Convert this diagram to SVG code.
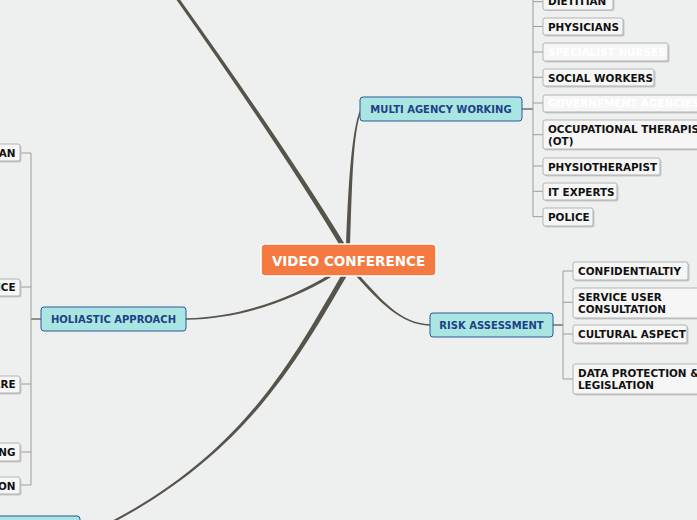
<svg xmlns="http://www.w3.org/2000/svg" width="697" height="520" viewBox="0 0 697 520">
<style>
.conn path.t{fill:#55534a}
.sub{fill:none;stroke:#9c9c9c;stroke-width:1}
.stub{fill:none;stroke:#707070;stroke-width:1.5}
.b{fill:#f6f6f6;stroke:#b3b3b3;stroke-width:1}
.s{fill:#c6c7c6}
.lt{font-family:"DejaVu Sans",Verdana,sans-serif;font-weight:bold;font-size:10.4px;fill:#111}
.w{fill:#ffffff}
.mr{fill:#a9e6e2;stroke:#2c5599;stroke-width:1}
.mt{font-family:"DejaVu Sans",Verdana,sans-serif;font-weight:bold;font-size:10px;fill:#1f4085;text-anchor:middle}
.rr{fill:#f47a42;stroke:#ffffff;stroke-width:1.5}
.rt{font-family:"DejaVu Sans",Verdana,sans-serif;font-weight:bold;font-size:13.5px;fill:#ffffff;text-anchor:middle}
</style>
<rect x="0" y="0" width="697" height="520" fill="#eef0ef"/>

<g id="connectors" class="conn">
  <path class="t" d="M345.1,244.7 Q286.7,148.9 178.2,-2.9 L175.8,-1.1 Q283.3,151.1 340.9,247.3 Z"/>
  <path class="t" d="M350,246 C352,190 352.7,130.3 361.7,110.3 L360.3,109.7 C351.3,129.7 348,190 346,246 Z"/>
  <path class="t" d="M330.8,277.3 C290.8,301.3 240,318.8 186,319.8 L186,318.2 C240,317.2 289.2,298.7 329.2,274.7 Z"/>
  <path class="t" d="M354.9,275 C378.9,301 400,324.7 430,325.7 L430,324.3 C400,323.3 381.1,299 357.1,273 Z"/>
  <path class="t" d="M347.15,275.3 C302.15,351.3 250.5,450.9 112.5,522.9 L111.5,521.1 C249.5,449.1 297.85,348.7 342.85,272.7 Z"/>
  <!-- multi agency sub-branches -->
  <path class="stub" d="M522,109 H533"/>
  <path class="sub" d="M533,0 V216.7 M533,1.7 H543 M533,26.5 H543 M533,52 H543 M533,77.3 H543 M533,103 H543 M533,134.7 H543 M533,166 H543 M533,191.3 H543 M533,216.7 H543"/>
  <!-- risk sub-branches -->
  <path class="stub" d="M553,325 H563"/>
  <path class="sub" d="M563,271 V379 M563,271 H573 M563,302.3 H573 M563,334 H573 M563,379 H573"/>
  <!-- holistic sub-branches -->
  <path class="stub" d="M41,319 H31"/>
  <path class="sub" d="M31,153 V485 M31,153 H20 M31,287 H20 M31,384 H20 M31,452 H20 M31,485 H20"/>
</g>

<g id="root">
  <rect class="rr" x="261" y="244" width="175" height="32" rx="4"/>
  <text class="rt" x="348.5" y="266">VIDEO CONFERENCE</text>
</g>

<g id="multi-agency">
  <rect class="mr" x="360" y="97" width="162" height="24" rx="3"/>
  <text class="mt" x="441" y="113.3">MULTI AGENCY WORKING</text>
</g>
<g id="risk">
  <rect class="mr" x="430" y="313" width="123" height="24" rx="3"/>
  <text class="mt" x="491.5" y="329">RISK ASSESSMENT</text>
</g>
<g id="holistic">
  <rect class="mr" x="41" y="307" width="145" height="24" rx="3"/>
  <text class="mt" x="113.5" y="323.3">HOLIASTIC APPROACH</text>
</g>
<g id="bottom-left">
  <rect class="mr" x="-10" y="516" width="90" height="24" rx="3"/>
</g>

<g id="dietitian"><rect class="s" x="544.5" y="-8" width="70" height="19" rx="2"/><rect class="b" x="543" y="-9" width="70" height="19" rx="2"/><text class="lt" x="548" y="5">DIETITIAN</text></g>
<g id="physicians"><rect class="s" x="544.5" y="19.5" width="80" height="17" rx="2"/><rect class="b" x="543" y="18" width="80" height="17" rx="2"/><text class="lt" x="548" y="31">PHYSICIANS</text></g>
<g id="specialist-nurses"><rect class="s" x="544.5" y="44.5" width="125" height="18" rx="2"/><rect class="b" x="543" y="43" width="125" height="18" rx="2"/><text class="lt w" x="548" y="56.3">SPECIALIST NURSES</text></g>
<g id="social-workers"><rect class="s" x="544.5" y="70.5" width="111" height="17" rx="2"/><rect class="b" x="543" y="69" width="111" height="17" rx="2"/><text class="lt" x="548" y="81.7">SOCIAL WORKERS</text></g>
<g id="government-agencies"><rect class="s" x="544.5" y="96.5" width="160" height="17" rx="2"/><rect class="b" x="543" y="95" width="160" height="17" rx="2"/><text class="lt w" x="548" y="107.3">GOVERNEMENT AGENCIES</text></g>
<g id="ot"><rect class="s" x="544.5" y="121.5" width="170" height="29" rx="2"/><rect class="b" x="543" y="120" width="170" height="29" rx="2"/><text class="lt" x="548" y="133.3">OCCUPATIONAL THERAPIST</text><text class="lt" x="548" y="145.3">(OT)</text></g>
<g id="physiotherapist"><rect class="s" x="544.5" y="159.5" width="117" height="17" rx="2"/><rect class="b" x="543" y="158" width="117" height="17" rx="2"/><text class="lt" x="548" y="170.7">PHYSIOTHERAPIST</text></g>
<g id="it-experts"><rect class="s" x="544.5" y="184.5" width="74" height="17" rx="2"/><rect class="b" x="543" y="183" width="74" height="17" rx="2"/><text class="lt" x="548" y="196">IT EXPERTS</text></g>
<g id="police"><rect class="s" x="544.5" y="209.5" width="50" height="18" rx="2"/><rect class="b" x="543" y="208" width="50" height="18" rx="2"/><text class="lt" x="548" y="221">POLICE</text></g>

<g id="confidentiality"><rect class="s" x="574.5" y="263.5" width="115" height="18" rx="2"/><rect class="b" x="573" y="262" width="115" height="18" rx="2"/><text class="lt" x="578" y="275">CONFIDENTIALTIY</text></g>
<g id="service-user"><rect class="s" x="574.5" y="289.5" width="140" height="30" rx="2"/><rect class="b" x="573" y="288" width="140" height="30" rx="2"/><text class="lt" x="578" y="301">SERVICE USER</text><text class="lt" x="578" y="312.7">CONSULTATION</text></g>
<g id="cultural-aspect"><rect class="s" x="574.5" y="326.5" width="114" height="18" rx="2"/><rect class="b" x="573" y="325" width="114" height="18" rx="2"/><text class="lt" x="578" y="337.7">CULTURAL ASPECT</text></g>
<g id="data-protection"><rect class="s" x="574.5" y="365.5" width="140" height="30" rx="2"/><rect class="b" x="573" y="364" width="140" height="30" rx="2"/><text class="lt" x="578" y="377">DATA PROTECTION &amp;</text><text class="lt" x="578" y="388.7">LEGISLATION</text></g>

<g id="h1"><rect class="s" x="-28.5" y="145.5" width="50" height="17" rx="2"/><rect class="b" x="-30" y="144" width="50" height="17" rx="2"/><text class="lt" x="15.5" y="156.7" text-anchor="end">AN</text></g>
<g id="h2"><rect class="s" x="-28.5" y="280.5" width="50" height="17" rx="2"/><rect class="b" x="-30" y="279" width="50" height="17" rx="2"/><text class="lt" x="15.5" y="290.7" text-anchor="end">ICE</text></g>
<g id="h3"><rect class="s" x="-28.5" y="377.5" width="50" height="17" rx="2"/><rect class="b" x="-30" y="376" width="50" height="17" rx="2"/><text class="lt" x="15.5" y="388" text-anchor="end">ARE</text></g>
<g id="h4"><rect class="s" x="-28.5" y="444.5" width="50" height="18" rx="2"/><rect class="b" x="-30" y="443" width="50" height="18" rx="2"/><text class="lt" x="15.5" y="456" text-anchor="end">NG</text></g>
<g id="h5"><rect class="s" x="-28.5" y="478.5" width="50" height="17" rx="2"/><rect class="b" x="-30" y="477" width="50" height="17" rx="2"/><text class="lt" x="15.5" y="490" text-anchor="end">ON</text></g>
</svg>
